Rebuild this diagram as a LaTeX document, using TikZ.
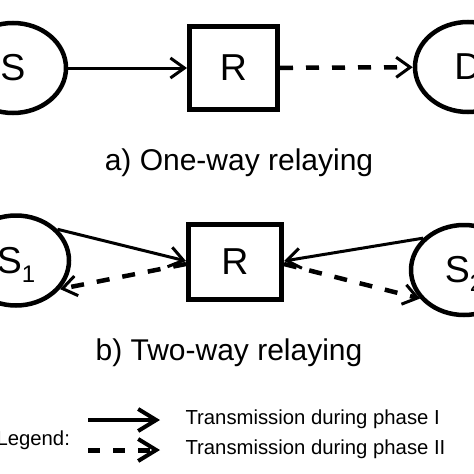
\documentclass[tikz,border=0pt]{standalone}
\usepackage{fontspec}
\setmainfont{Liberation Sans}
\usetikzlibrary{shapes.geometric}
\usetikzlibrary{arrows.meta}

\begin{document}
\begin{tikzpicture}[x=1pt, y=-1pt]
        % 定义样式:椭圆节点(源/目的),方框节点(中继),两种箭头
        \tikzstyle{enode}=[ellipse, draw=black, line width=4.5pt, fill=white, minimum width=106pt, minimum height=90pt, inner sep=0pt, font=\fontsize{37.5}{40}\selectfont]
        \tikzstyle{rnode}=[rectangle, draw=black, line width=5pt, fill=white, inner sep=0pt, font=\fontsize{37.5}{40}\selectfont]
        \tikzstyle{ph1}=[line width=3pt, -{Straight Barb[length=14pt, width=20pt]}]
        \tikzstyle{ph2}=[line width=4.5pt, dash pattern=on 13pt off 13pt, -{Straight Barb[length=14pt, width=20pt, line width=3pt]}]
        \tikzstyle{lg1}=[line width=4pt, -{Straight Barb[length=18pt, width=22pt]}]
        \tikzstyle{lg2}=[line width=5pt, dash pattern=on 12pt off 13pt, -{Straight Barb[length=18pt, width=22pt, line width=4pt]}]
        \tikzstyle{captext}=[anchor=base, font=\fontsize{30}{36}\selectfont]
        \tikzstyle{legtext}=[anchor=base west, font=\fontsize{20.3}{24}\selectfont]

        % 画布 (y 轴向下, 单位 pt)
        \path[use as bounding box, clip] (0,0) rectangle (474,474);

        % a) 单向中继
        \node[enode] (S) at (13,68) {S};
        \node[rnode, minimum width=88pt, minimum height=83pt] (R) at (233.5,68) {R};
        \node[enode] (D) at (468,67) {D};
        \draw[ph1] (S) -- (R);
        \draw[ph2] (R) -- (D);
        \node[captext] (capa) at (239,170) {a) One-way relaying};

        % b) 双向中继
        \node[enode] (S1) at (16,260.5) {S\raisebox{-9pt}[0pt][0pt]{\fontsize{24}{24}\selectfont 1}};
        \node[rnode, minimum width=93pt, minimum height=75pt] (R2) at (235,262) {R};
        \node[enode] (S2) at (464,270) {S\raisebox{-9pt}[0pt][0pt]{\fontsize{24}{24}\selectfont 2}};
        \draw[ph1] (S1.37) -- ([yshift=1pt]R2.west);
        \draw[ph2] ([yshift=-2pt]R2.west) -- (S1.-33);
        \draw[ph1] (S2.142) -- ([yshift=1pt]R2.east);
        \draw[ph2] ([yshift=-2pt]R2.east) -- (S2.-147);
        \node[captext] (capb) at (229,360) {b) Two-way relaying};

        % 图例
        \node[legtext] (lg) at (-7,445) {Legend:};
        \coordinate (l1a) at (88,420);
        \coordinate (l1b) at (160,420);
        \coordinate (l2a) at (88,450);
        \coordinate (l2b) at (160,450);
        \draw[lg1] (l1a) -- (l1b);
        \draw[lg2] (l2a) -- (l2b);
        \node[legtext] (t1) at (182,424) {Transmission during phase I};
        \node[legtext] (t2) at (182,454) {Transmission during phase II};
    \end{tikzpicture}
\end{document}
